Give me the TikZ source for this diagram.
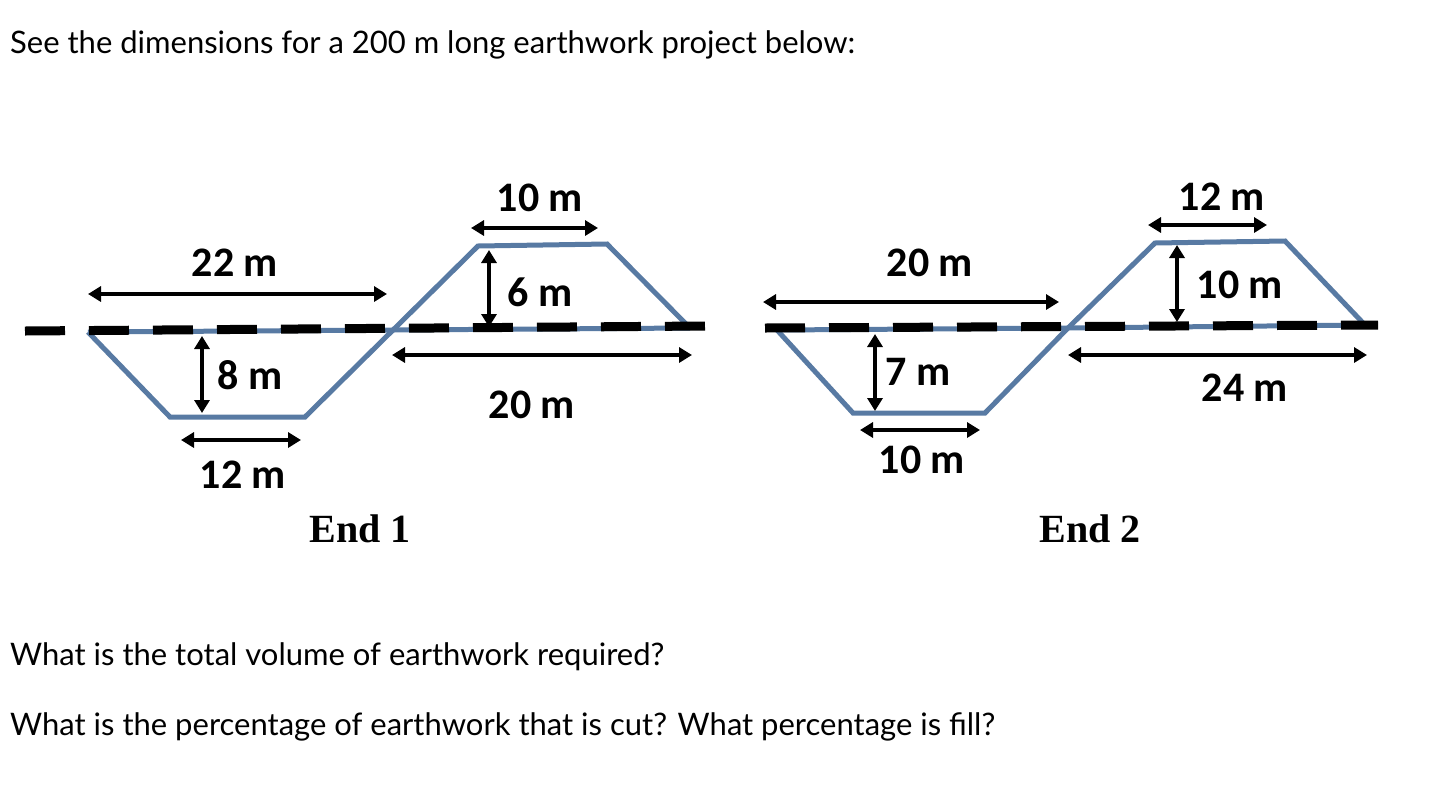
\documentclass[tikz,border=0pt]{standalone}
\usepackage{fontspec}
\setmainfont{Lato}
\newfontfamily\lab{Carlito}
\newfontfamily\tms{Liberation Serif}
\usetikzlibrary{arrows.meta}
\definecolor{sec}{RGB}{88,122,163}
\tikzset{x=1pt,y=-1pt,
 gline/.style={line width=9pt,dash pattern=on 40pt off 24pt},
 secline/.style={draw=sec,line width=5pt,line join=miter},
 dimarr/.style={line width=3.5pt,{Triangle[length=13pt,width=15pt]}-{Triangle[length=13pt,width=15pt]}},
 lbl/.style={font=\lab\bfseries\fontsize{42}{42}\selectfont,inner sep=0},
 endl/.style={font=\tms\bfseries\fontsize{40}{40}\selectfont,inner sep=0},
 txt/.style={font=\fontsize{31}{31}\selectfont,anchor=west,inner sep=0}}
\begin{document}
\begin{tikzpicture}
\useasboundingbox[fill=white] (0,0) rectangle (1432,796);
\node[txt] (t1) at (10,45) {See the dimensions for a 200 m long earthwork project below:};
\node[txt] (t2) at (10,657) {What is the total volume of earthwork required?};
\node[txt] (t3) at (10,727) {What is the percentage of earthwork that is cut? What percentage is fill?};
% End 1
\draw[secline] (88,332) -- (393,330) -- (690,328);
\draw[secline] (88,332) -- (170,417) -- (305,417) -- (393,330) -- (478,246) -- (607,244) -- (690,328);
\draw[gline] (25,331) -- (705,326);
\coordinate (a1) at (88,294); \coordinate (a2) at (387,294);
\draw[dimarr] (a1) -- (a2);
\node[lbl] (l22) at (235,263) {22 m};
\coordinate (b1) at (489,250); \coordinate (b2) at (489,327);
\draw[dimarr] (b1) -- (b2);
\node[lbl] (l6) at (540,292) {6 m};
\coordinate (c1) at (471,228); \coordinate (c2) at (598,228);
\draw[dimarr] (c1) -- (c2);
\node[lbl] (l10) at (540,198) {10 m};
\coordinate (d1) at (392,355); \coordinate (d2) at (692,355);
\draw[dimarr] (d1) -- (d2);
\node[lbl] (l20) at (532,405) {20 m};
\coordinate (e1) at (202,336); \coordinate (e2) at (202,413);
\draw[dimarr] (e1) -- (e2);
\node[lbl] (l8) at (250,375) {8 m};
\coordinate (f1) at (181,440); \coordinate (f2) at (301,440);
\draw[dimarr] (f1) -- (f2);
\node[lbl] (l12) at (243,475) {12 m};
\node[endl] (e1l) at (360,529) {End 1};
% End 2
\draw[secline] (777,330) -- (1068,328) -- (1365,325);
\draw[secline] (777,330) -- (853,413) -- (985,413) -- (1068,328) -- (1155,243) -- (1285,241) -- (1365,325);
\draw[gline] (765,328) -- (1378,325);
\coordinate (g1) at (763,302); \coordinate (g2) at (1059,302);
\draw[dimarr] (g1) -- (g2);
\node[lbl] (m20) at (930,263) {20 m};
\coordinate (h1) at (875,334); \coordinate (h2) at (875,411);
\draw[dimarr] (h1) -- (h2);
\node[lbl] (m7) at (918,372) {7 m};
\coordinate (i1) at (860,430); \coordinate (i2) at (980,430);
\draw[dimarr] (i1) -- (i2);
\node[lbl] (m10) at (922,460) {10 m};
\coordinate (j1) at (1148,225); \coordinate (j2) at (1267,225);
\draw[dimarr] (j1) -- (j2);
\node[lbl] (m12) at (1222,197) {12 m};
\coordinate (k1) at (1177,245); \coordinate (k2) at (1177,322);
\draw[dimarr] (k1) -- (k2);
\node[lbl] (mv10) at (1240,285) {10 m};
\coordinate (n1) at (1068,355); \coordinate (n2) at (1367,355);
\draw[dimarr] (n1) -- (n2);
\node[lbl] (m24) at (1245,388) {24 m};
\node[endl] (e2l) at (1090,529) {End 2};
\end{tikzpicture}
\end{document}
